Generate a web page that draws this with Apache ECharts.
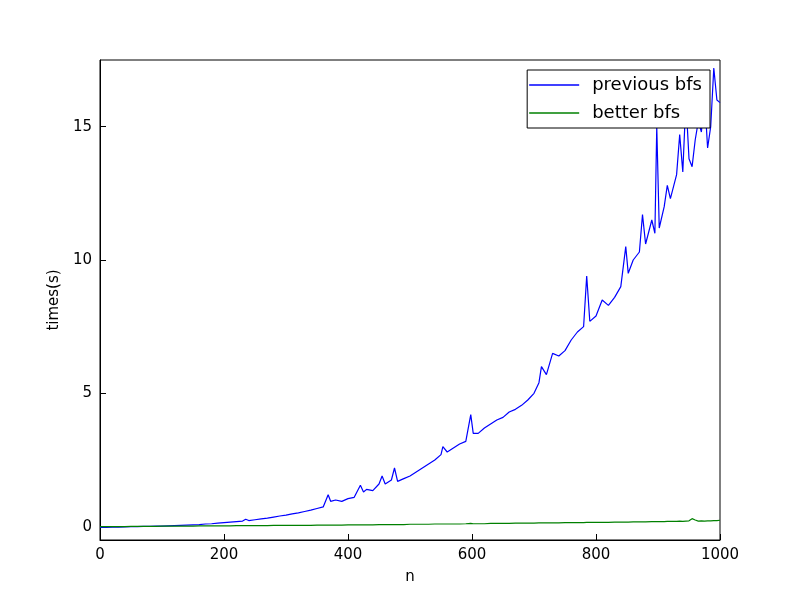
<!DOCTYPE html>
<html><head><meta charset="utf-8">
<script src="https://cdn.jsdelivr.net/npm/echarts@6/dist/echarts.min.js"></script>
</head><body style="margin:0;background:#fff">
<div id="c" style="width:800px;height:600px"></div>
<script>
const nValues = [0,10,20,30,40,50,60,70,80,90,100,110,120,130,140,150,160,170,180,190,200,210,220,230,235,240,250,260,270,280,290,300,310,320,330,340,350,360,368,372,380,390,400,410,420,425,430,440,450,455,460,470,475,480,490,500,510,520,530,540,550,553,560,570,580,590,598,602,610,620,630,640,650,660,670,680,690,700,708,712,720,730,740,750,760,770,780,785,790,800,810,820,830,840,848,852,860,870,875,880,890,895,898,902,910,915,920,930,935,940,945,950,955,960,965,970,975,980,985,990,995,1000];
const prevBfs = [-0.03,-0.03,-0.02,-0.02,-0.01,0,0,0.01,0.01,0.02,0.02,0.03,0.04,0.05,0.06,0.07,0.08,0.1,0.11,0.13,0.15,0.17,0.19,0.21,0.28,0.23,0.26,0.29,0.32,0.36,0.4,0.43,0.48,0.52,0.57,0.62,0.68,0.74,1.2,0.95,1.0,0.95,1.05,1.1,1.55,1.3,1.4,1.35,1.6,1.9,1.6,1.75,2.2,1.7,1.8,1.9,2.05,2.2,2.35,2.5,2.7,3.0,2.8,2.95,3.1,3.2,4.2,3.5,3.5,3.7,3.85,4.0,4.1,4.3,4.4,4.55,4.75,5.0,5.4,6.0,5.7,6.5,6.4,6.6,7.0,7.3,7.5,9.4,7.7,7.9,8.5,8.3,8.6,9.0,10.5,9.5,10.0,10.3,11.7,10.6,11.5,11.0,15.0,11.2,12.0,12.8,12.3,13.2,14.7,13.3,16.0,13.8,13.5,14.5,15.2,14.8,16.2,14.2,15.0,17.2,16.0,15.9];
const betterBfs = [0,0,0,0,0,0.01,0.01,0.01,0.01,0.01,0.02,0.02,0.02,0.02,0.02,0.02,0.03,0.03,0.03,0.03,0.03,0.03,0.04,0.04,0.04,0.04,0.04,0.04,0.04,0.05,0.05,0.05,0.05,0.05,0.05,0.05,0.06,0.06,0.06,0.06,0.06,0.06,0.07,0.07,0.07,0.07,0.07,0.07,0.08,0.08,0.08,0.08,0.08,0.08,0.08,0.09,0.09,0.09,0.09,0.1,0.1,0.1,0.1,0.1,0.1,0.11,0.12,0.11,0.11,0.11,0.12,0.12,0.12,0.12,0.13,0.13,0.13,0.13,0.14,0.14,0.14,0.14,0.14,0.15,0.15,0.15,0.15,0.16,0.16,0.16,0.16,0.16,0.17,0.17,0.17,0.17,0.18,0.18,0.18,0.18,0.19,0.19,0.2,0.19,0.19,0.2,0.2,0.2,0.21,0.2,0.21,0.22,0.3,0.25,0.21,0.22,0.21,0.22,0.22,0.23,0.23,0.24];
const prevData = nValues.map((n,i)=>[n,prevBfs[i]]);
const betterData = nValues.map((n,i)=>[n,betterBfs[i]]);
const font = 'DejaVu Sans';
const ch = echarts.init(document.getElementById('c'));
const ax = {axisLine:{show:true,onZero:false,lineStyle:{color:'#000'}},axisTick:{inside:true,length:6,lineStyle:{color:'#000'}},
  axisLabel:{color:'#000',fontSize:15,fontFamily:font,formatter:v=>String(v)},splitLine:{show:false},nameLocation:'middle',nameTextStyle:{color:'#000',fontSize:15,fontFamily:font}};
ch.setOption({
  animation:false,
  grid:{left:100,right:80,top:60,bottom:60,show:true,borderColor:'#000',borderWidth:1},
  xAxis:Object.assign({type:'value',min:0,max:1000,interval:200,name:'n',nameGap:30},ax),
  yAxis:Object.assign({type:'value',min:-0.5,max:17.5,name:'times(s)',nameGap:35},ax,{
    axisLabel:Object.assign({},ax.axisLabel,{customValues:[0,5,10,15]}),axisTick:Object.assign({},ax.axisTick,{customValues:[0,5,10,15]})}),
  legend:{right:90,top:70,orient:'vertical',backgroundColor:'#fff',borderColor:'#000',borderWidth:1,borderRadius:0,padding:[6,8,6,2],
    itemWidth:50,itemHeight:1.5,itemGap:10,textStyle:{fontSize:18,fontFamily:font,color:'#000',padding:[0,0,0,8]},
    data:[{name:'previous bfs',icon:'rect'},{name:'better bfs',icon:'rect'}]},
  series:[
    {name:'previous bfs',type:'line',data:prevData,showSymbol:false,lineStyle:{color:'#0000ff',width:1.2},itemStyle:{color:'#0000ff'}},
    {name:'better bfs',type:'line',data:betterData,showSymbol:false,lineStyle:{color:'#008000',width:1.2},itemStyle:{color:'#008000'}}
  ]
});
</script></body></html>
